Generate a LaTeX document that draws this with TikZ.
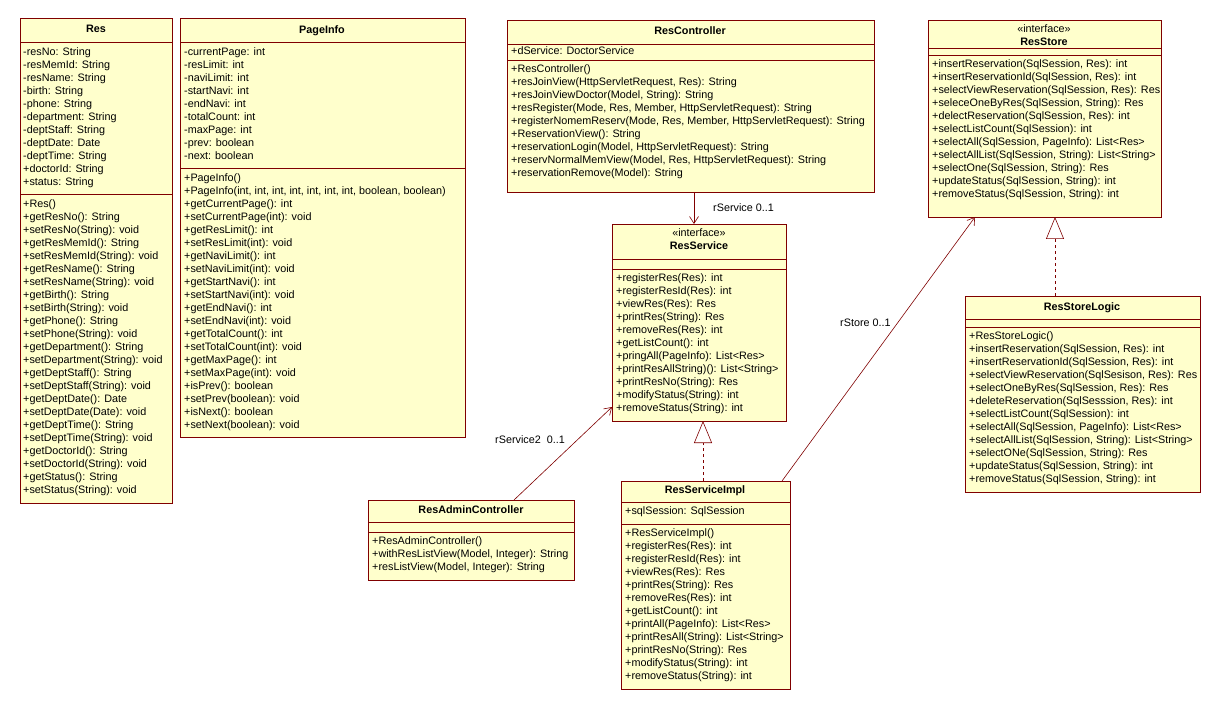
\documentclass[tikz,border=0pt]{standalone}
\usepackage{fontspec}
\setmainfont{Liberation Sans}[Ligatures=NoCommon]
\usetikzlibrary{arrows.meta}
\definecolor{uml}{RGB}{128,0,0}
\definecolor{umlfill}{RGB}{255,255,204}
\newcommand{\stereo}{\textless\textless interface\textgreater\textgreater}
\begin{document}
\begin{tikzpicture}[x=1pt,y=-1pt,
  box/.style={draw=uml,fill=umlfill,line width=0.8pt,anchor=north west,inner sep=0pt,outer sep=0pt},
  sep/.style={draw=uml,line width=0.8pt},
  txt/.style={anchor=north west,inner sep=0pt,align=left,font=\fontsize{10.8}{13}\selectfont},
  ttl/.style={anchor=north,inner sep=0pt,align=center,font=\fontsize{10.8}{13}\selectfont},
  lbl/.style={anchor=west,inner sep=0pt,font=\fontsize{10.8}{13}\selectfont},
  assoc/.style={draw=uml,line width=0.6pt,-{Straight Barb[length=7pt,width=9pt]}},
  real/.style={draw=uml,line width=0.6pt,dashed,-{Triangle[open,length=22pt,width=18pt,fill=white]}}]
\useasboundingbox (0,0) rectangle (1221,711);
\fill[white] (0,0) rectangle (1221,711);

% Res
\node[box,minimum width=152pt,minimum height=485pt] (res) at (20,18) {};
\draw[sep] (20,42) -- (172,42); \draw[sep] (20,194) -- (172,194);
\node[ttl] (resT) at (96,25) {\bfseries Res};
\node[txt] (resA) at (23,47) {-resNo: String\\-resMemId: String\\-resName: String\\-birth: String\\-phone: String\\-department: String\\-deptStaff: String\\-deptDate: Date\\-deptTime: String\\+doctorId: String\\+status: String};
\node[txt] (resM) at (23,199) {+Res()\\+getResNo(): String\\+setResNo(String): void\\+getResMemId(): String\\+setResMemId(String): void\\+getResName(): String\\+setResName(String): void\\+getBirth(): String\\+setBirth(String): void\\+getPhone(): String\\+setPhone(String): void\\+getDepartment(): String\\+setDepartment(String): void\\+getDeptStaff(): String\\+setDeptStaff(String): void\\+getDeptDate(): Date\\+setDeptDate(Date): void\\+getDeptTime(): String\\+setDeptTime(String): void\\+getDoctorId(): String\\+setDoctorId(String): void\\+getStatus(): String\\+setStatus(String): void};

% PageInfo
\node[box,minimum width=285pt,minimum height=419pt] (pi) at (180,18) {};
\draw[sep] (180,42) -- (465,42); \draw[sep] (180,168) -- (465,168);
\node[ttl] (piT) at (322,25) {\bfseries PageInfo};
\node[txt] (piA) at (184,47) {-currentPage: int\\-resLimit: int\\-naviLimit: int\\-startNavi: int\\-endNavi: int\\-totalCount: int\\-maxPage: int\\-prev: boolean\\-next: boolean};
\node[txt] (piM) at (184,173) {+PageInfo()\\+PageInfo(int, int, int, int, int, int, int, boolean, boolean)\\+getCurrentPage(): int\\+setCurrentPage(int): void\\+getResLimit(): int\\+setResLimit(int): void\\+getNaviLimit(): int\\+setNaviLimit(int): void\\+getStartNavi(): int\\+setStartNavi(int): void\\+getEndNavi(): int\\+setEndNavi(int): void\\+getTotalCount(): int\\+setTotalCount(int): void\\+getMaxPage(): int\\+setMaxPage(int): void\\+isPrev(): boolean\\+setPrev(boolean): void\\+isNext(): boolean\\+setNext(boolean): void};

% ResController
\node[box,minimum width=367pt,minimum height=172pt] (rc) at (507,20) {};
\draw[sep] (507,44) -- (874,44); \draw[sep] (507,60) -- (874,60);
\node[ttl] (rcT) at (690,26) {\bfseries ResController};
\node[txt] (rcA) at (511,46) {+dService: DoctorService};
\node[txt] (rcM) at (511,64) {+ResController()\\+resJoinView(HttpServletRequest, Res): String\\+resJoinViewDoctor(Model, String): String\\+resRegister(Mode, Res, Member, HttpServletRequest): String\\+registerNomemReserv(Mode, Res, Member, HttpServletRequest): String\\+ReservationView(): String\\+reservationLogin(Model, HttpServletRequest): String\\+reservNormalMemView(Model, Res, HttpServletRequest): String\\+reservationRemove(Model): String};

% ResStore
\node[box,minimum width=233pt,minimum height=197pt] (rs) at (928,20) {};
\draw[sep] (928,48) -- (1161,48); \draw[sep] (928,55) -- (1161,55);
\node[ttl] (rsT) at (1044,24) {\stereo\\\bfseries ResStore};
\node[txt] (rsM) at (932,59) {+insertReservation(SqlSession, Res): int\\+insertReservationId(SqlSession, Res): int\\+selectViewReservation(SqlSession, Res): Res\\+seleceOneByRes(SqlSession, String): Res\\+delectReservation(SqlSession, Res): int\\+selectListCount(SqlSession): int\\+selectAll(SqlSession, PageInfo): List<Res>\\+selectAllList(SqlSession, String): List<String>\\+selectOne(SqlSession, String): Res\\+updateStatus(SqlSession, String): int\\+removeStatus(SqlSession, String): int};

% ResStoreLogic
\node[box,minimum width=235pt,minimum height=196pt] (rsl) at (965,296) {};
\draw[sep] (965,319) -- (1200,319); \draw[sep] (965,327) -- (1200,327);
\node[ttl] (rslT) at (1082,302) {\bfseries ResStoreLogic};
\node[txt] (rslM) at (969,331) {+ResStoreLogic()\\+insertReservation(SqlSession, Res): int\\+insertReservationId(SqlSession, Res): int\\+selectViewReservation(SqlSesison, Res): Res\\+selectOneByRes(SqlSession, Res): Res\\+deleteReservation(SqlSesssion, Res): int\\+selectListCount(SqlSession): int\\+selectAll(SqlSession, PageInfo): List<Res>\\+selectAllList(SqlSession, String): List<String>\\+selectONe(SqlSession, String): Res\\+updateStatus(SqlSession, String): int\\+removeStatus(SqlSession, String): int};

% ResService
\node[box,minimum width=174pt,minimum height=197pt] (svc) at (612,224) {};
\draw[sep] (612,259) -- (786,259); \draw[sep] (612,269) -- (786,269);
\node[ttl] (svcT) at (699,228) {\stereo\\\bfseries ResService};
\node[txt] (svcM) at (616,273) {+registerRes(Res): int\\+registerResId(Res): int\\+viewRes(Res): Res\\+printRes(String): Res\\+removeRes(Res): int\\+getListCount(): int\\+pringAll(PageInfo): List<Res>\\+printResAllString)(): List<String>\\+printResNo(String): Res\\+modifyStatus(String): int\\+removeStatus(String): int};

% ResServiceImpl
\node[box,minimum width=169pt,minimum height=208pt] (impl) at (621,481) {};
\draw[sep] (621,502) -- (790,502); \draw[sep] (621,524) -- (790,524);
\node[ttl] (implT) at (705,485) {\bfseries ResServiceImpl};
\node[txt] (implA) at (625,506) {+sqlSession: SqlSession};
\node[txt] (implM) at (625,528) {+ResServiceImpl()\\+registerRes(Res): int\\+registerResId(Res): int\\+viewRes(Res): Res\\+printRes(String): Res\\+removeRes(Res): int\\+getListCount(): int\\+printAll(PageInfo): List<Res>\\+printResAll(String): List<String>\\+printResNo(String): Res\\+modifyStatus(String): int\\+removeStatus(String): int};

% ResAdminController
\node[box,minimum width=206pt,minimum height=80pt] (adm) at (368,500) {};
\draw[sep] (368,522) -- (574,522); \draw[sep] (368,532) -- (574,532);
\node[ttl] (admT) at (471,505) {\bfseries ResAdminController};
\node[txt] (admM) at (372,536) {+ResAdminController()\\+withResListView(Model, Integer): String\\+resListView(Model, Integer): String};

% connectors
\draw[assoc] (rc.south -| 694,0) -- (svc.north -| 694,0);
\node[lbl] (l1) at (713,208) {rService 0..1};
\draw[assoc] (adm.north -| 514,0) -- (svc.west |- 0,407);
\node[lbl] (l2) at (495,440) {rService2\ \ 0..1};
\draw[real] (impl.north -| 703,0) -- (svc.south -| 703,0);
\draw[assoc] (impl.north -| 782,0) -- (rs.south -| 975,0);
\node[lbl] (l3) at (840,323) {rStore 0..1};
\draw[real] (rsl.north -| 1055,0) -- (rs.south -| 1055,0);
\end{tikzpicture}
\end{document}
